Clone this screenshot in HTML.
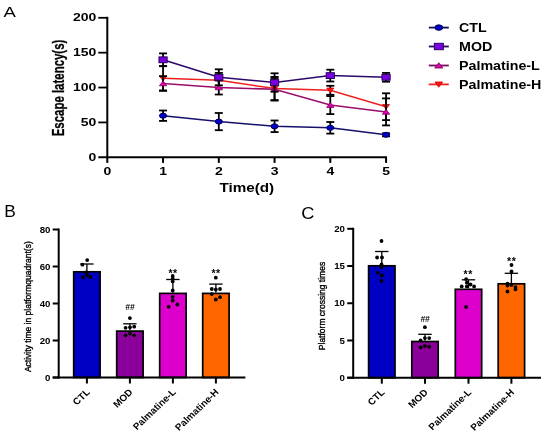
<!DOCTYPE html>
<html><head><meta charset="utf-8"><style>
html,body{margin:0;padding:0;background:#fff;}
body{width:550px;height:436px;overflow:hidden;}
svg{display:block;}
</style></head><body>
<svg width="550" height="436" viewBox="0 0 550 436">
<rect width="550" height="436" fill="#fff"/>
<line x1="107.30" y1="16.80" x2="107.30" y2="162.90" stroke="#000" stroke-width="2" stroke-linecap="butt"/>
<line x1="98.30" y1="157.30" x2="387.05" y2="157.30" stroke="#000" stroke-width="1.9" stroke-linecap="butt"/>
<line x1="98.30" y1="17.80" x2="107.30" y2="17.80" stroke="#000" stroke-width="1.8" stroke-linecap="butt"/>
<line x1="98.30" y1="52.68" x2="107.30" y2="52.68" stroke="#000" stroke-width="1.8" stroke-linecap="butt"/>
<line x1="98.30" y1="87.55" x2="107.30" y2="87.55" stroke="#000" stroke-width="1.8" stroke-linecap="butt"/>
<line x1="98.30" y1="122.43" x2="107.30" y2="122.43" stroke="#000" stroke-width="1.8" stroke-linecap="butt"/>
<line x1="163.05" y1="157.30" x2="163.05" y2="162.90" stroke="#000" stroke-width="2" stroke-linecap="butt"/>
<line x1="218.80" y1="157.30" x2="218.80" y2="162.90" stroke="#000" stroke-width="2" stroke-linecap="butt"/>
<line x1="274.55" y1="157.30" x2="274.55" y2="162.90" stroke="#000" stroke-width="2" stroke-linecap="butt"/>
<line x1="330.30" y1="157.30" x2="330.30" y2="162.90" stroke="#000" stroke-width="2" stroke-linecap="butt"/>
<line x1="386.05" y1="157.30" x2="386.05" y2="162.90" stroke="#000" stroke-width="2" stroke-linecap="butt"/>
<text transform="translate(96.30,21.40) scale(1.250,1.000)" font-size="11.2" font-weight="bold" text-anchor="end" fill="#000" font-family='"Liberation Sans", Arial, sans-serif'>200</text>
<text transform="translate(96.30,56.28) scale(1.250,1.000)" font-size="11.2" font-weight="bold" text-anchor="end" fill="#000" font-family='"Liberation Sans", Arial, sans-serif'>150</text>
<text transform="translate(96.30,91.15) scale(1.250,1.000)" font-size="11.2" font-weight="bold" text-anchor="end" fill="#000" font-family='"Liberation Sans", Arial, sans-serif'>100</text>
<text transform="translate(96.30,126.03) scale(1.250,1.000)" font-size="11.2" font-weight="bold" text-anchor="end" fill="#000" font-family='"Liberation Sans", Arial, sans-serif'>50</text>
<text transform="translate(96.30,160.90) scale(1.250,1.000)" font-size="11.2" font-weight="bold" text-anchor="end" fill="#000" font-family='"Liberation Sans", Arial, sans-serif'>0</text>
<text transform="translate(107.30,174.60) scale(1.250,1.000)" font-size="11.2" font-weight="bold" text-anchor="middle" fill="#000" font-family='"Liberation Sans", Arial, sans-serif'>0</text>
<text transform="translate(163.05,174.60) scale(1.250,1.000)" font-size="11.2" font-weight="bold" text-anchor="middle" fill="#000" font-family='"Liberation Sans", Arial, sans-serif'>1</text>
<text transform="translate(218.80,174.60) scale(1.250,1.000)" font-size="11.2" font-weight="bold" text-anchor="middle" fill="#000" font-family='"Liberation Sans", Arial, sans-serif'>2</text>
<text transform="translate(274.55,174.60) scale(1.250,1.000)" font-size="11.2" font-weight="bold" text-anchor="middle" fill="#000" font-family='"Liberation Sans", Arial, sans-serif'>3</text>
<text transform="translate(330.30,174.60) scale(1.250,1.000)" font-size="11.2" font-weight="bold" text-anchor="middle" fill="#000" font-family='"Liberation Sans", Arial, sans-serif'>4</text>
<text transform="translate(386.05,174.60) scale(1.250,1.000)" font-size="11.2" font-weight="bold" text-anchor="middle" fill="#000" font-family='"Liberation Sans", Arial, sans-serif'>5</text>
<text transform="translate(246.80,191.80) scale(1.250,1.000)" font-size="12.2" font-weight="bold" text-anchor="middle" fill="#000" font-family='"Liberation Sans", Arial, sans-serif'>Time(d)</text>
<text transform="translate(64.00,88.00) scale(1.520,1.000) rotate(-90)" font-size="11.45" font-weight="bold" text-anchor="middle" fill="#000" font-family='"Liberation Sans", Arial, sans-serif' stroke="#000" stroke-width="0.2">Escape latency(s)</text>
<text transform="translate(9.70,16.60) scale(1.220,1.000)" font-size="15.2" font-weight="normal" text-anchor="middle" fill="#000" font-family='"Liberation Sans", Arial, sans-serif'>A</text>
<line x1="163.05" y1="66.10" x2="163.05" y2="90.50" stroke="#000" stroke-width="1.8" stroke-linecap="butt"/>
<line x1="159.05" y1="66.10" x2="167.05" y2="66.10" stroke="#000" stroke-width="1.8" stroke-linecap="butt"/>
<line x1="159.05" y1="90.50" x2="167.05" y2="90.50" stroke="#000" stroke-width="1.8" stroke-linecap="butt"/>
<line x1="218.80" y1="72.90" x2="218.80" y2="87.70" stroke="#000" stroke-width="1.8" stroke-linecap="butt"/>
<line x1="214.80" y1="72.90" x2="222.80" y2="72.90" stroke="#000" stroke-width="1.8" stroke-linecap="butt"/>
<line x1="214.80" y1="87.70" x2="222.80" y2="87.70" stroke="#000" stroke-width="1.8" stroke-linecap="butt"/>
<line x1="274.55" y1="76.90" x2="274.55" y2="100.10" stroke="#000" stroke-width="1.8" stroke-linecap="butt"/>
<line x1="270.55" y1="76.90" x2="278.55" y2="76.90" stroke="#000" stroke-width="1.8" stroke-linecap="butt"/>
<line x1="270.55" y1="100.10" x2="278.55" y2="100.10" stroke="#000" stroke-width="1.8" stroke-linecap="butt"/>
<line x1="330.30" y1="85.80" x2="330.30" y2="94.80" stroke="#000" stroke-width="1.8" stroke-linecap="butt"/>
<line x1="326.30" y1="85.80" x2="334.30" y2="85.80" stroke="#000" stroke-width="1.8" stroke-linecap="butt"/>
<line x1="326.30" y1="94.80" x2="334.30" y2="94.80" stroke="#000" stroke-width="1.8" stroke-linecap="butt"/>
<line x1="386.05" y1="93.30" x2="386.05" y2="120.10" stroke="#000" stroke-width="1.8" stroke-linecap="butt"/>
<line x1="382.05" y1="93.30" x2="390.05" y2="93.30" stroke="#000" stroke-width="1.8" stroke-linecap="butt"/>
<line x1="382.05" y1="120.10" x2="390.05" y2="120.10" stroke="#000" stroke-width="1.8" stroke-linecap="butt"/>
<polyline points="163.05,78.30 218.80,80.30 274.55,88.50 330.30,90.30 386.05,106.70" fill="none" stroke="#f02020" stroke-width="1.55"/>
<polygon points="159.55,76.10 166.55,76.10 163.05,80.80" fill="#ff1010" stroke="#d00000" stroke-width="0.8"/>
<polygon points="215.30,78.10 222.30,78.10 218.80,82.80" fill="#ff1010" stroke="#d00000" stroke-width="0.8"/>
<polygon points="271.05,86.30 278.05,86.30 274.55,91.00" fill="#ff1010" stroke="#d00000" stroke-width="0.8"/>
<polygon points="326.80,88.10 333.80,88.10 330.30,92.80" fill="#ff1010" stroke="#d00000" stroke-width="0.8"/>
<polygon points="382.55,104.50 389.55,104.50 386.05,109.20" fill="#ff1010" stroke="#d00000" stroke-width="0.8"/>
<line x1="163.05" y1="76.20" x2="163.05" y2="90.80" stroke="#000" stroke-width="1.8" stroke-linecap="butt"/>
<line x1="159.05" y1="76.20" x2="167.05" y2="76.20" stroke="#000" stroke-width="1.8" stroke-linecap="butt"/>
<line x1="159.05" y1="90.80" x2="167.05" y2="90.80" stroke="#000" stroke-width="1.8" stroke-linecap="butt"/>
<line x1="218.80" y1="80.50" x2="218.80" y2="94.50" stroke="#000" stroke-width="1.8" stroke-linecap="butt"/>
<line x1="214.80" y1="80.50" x2="222.80" y2="80.50" stroke="#000" stroke-width="1.8" stroke-linecap="butt"/>
<line x1="214.80" y1="94.50" x2="222.80" y2="94.50" stroke="#000" stroke-width="1.8" stroke-linecap="butt"/>
<line x1="274.55" y1="78.00" x2="274.55" y2="100.60" stroke="#000" stroke-width="1.8" stroke-linecap="butt"/>
<line x1="270.55" y1="78.00" x2="278.55" y2="78.00" stroke="#000" stroke-width="1.8" stroke-linecap="butt"/>
<line x1="270.55" y1="100.60" x2="278.55" y2="100.60" stroke="#000" stroke-width="1.8" stroke-linecap="butt"/>
<line x1="330.30" y1="96.10" x2="330.30" y2="114.10" stroke="#000" stroke-width="1.8" stroke-linecap="butt"/>
<line x1="326.30" y1="96.10" x2="334.30" y2="96.10" stroke="#000" stroke-width="1.8" stroke-linecap="butt"/>
<line x1="326.30" y1="114.10" x2="334.30" y2="114.10" stroke="#000" stroke-width="1.8" stroke-linecap="butt"/>
<line x1="386.05" y1="98.40" x2="386.05" y2="125.40" stroke="#000" stroke-width="1.8" stroke-linecap="butt"/>
<line x1="382.05" y1="98.40" x2="390.05" y2="98.40" stroke="#000" stroke-width="1.8" stroke-linecap="butt"/>
<line x1="382.05" y1="125.40" x2="390.05" y2="125.40" stroke="#000" stroke-width="1.8" stroke-linecap="butt"/>
<polyline points="163.05,83.50 218.80,87.50 274.55,89.30 330.30,105.10 386.05,111.90" fill="none" stroke="#9a0c6c" stroke-width="1.55"/>
<polygon points="163.05,81.00 166.75,85.80 159.35,85.80" fill="#e000b8" stroke="#800050" stroke-width="0.8"/>
<polygon points="218.80,85.00 222.50,89.80 215.10,89.80" fill="#e000b8" stroke="#800050" stroke-width="0.8"/>
<polygon points="274.55,86.80 278.25,91.60 270.85,91.60" fill="#e000b8" stroke="#800050" stroke-width="0.8"/>
<polygon points="330.30,102.60 334.00,107.40 326.60,107.40" fill="#e000b8" stroke="#800050" stroke-width="0.8"/>
<polygon points="386.05,109.40 389.75,114.20 382.35,114.20" fill="#e000b8" stroke="#800050" stroke-width="0.8"/>
<line x1="163.05" y1="53.40" x2="163.05" y2="66.20" stroke="#000" stroke-width="1.8" stroke-linecap="butt"/>
<line x1="159.05" y1="53.40" x2="167.05" y2="53.40" stroke="#000" stroke-width="1.8" stroke-linecap="butt"/>
<line x1="159.05" y1="66.20" x2="167.05" y2="66.20" stroke="#000" stroke-width="1.8" stroke-linecap="butt"/>
<line x1="218.80" y1="69.30" x2="218.80" y2="85.30" stroke="#000" stroke-width="1.8" stroke-linecap="butt"/>
<line x1="214.80" y1="69.30" x2="222.80" y2="69.30" stroke="#000" stroke-width="1.8" stroke-linecap="butt"/>
<line x1="214.80" y1="85.30" x2="222.80" y2="85.30" stroke="#000" stroke-width="1.8" stroke-linecap="butt"/>
<line x1="274.55" y1="73.30" x2="274.55" y2="91.70" stroke="#000" stroke-width="1.8" stroke-linecap="butt"/>
<line x1="270.55" y1="73.30" x2="278.55" y2="73.30" stroke="#000" stroke-width="1.8" stroke-linecap="butt"/>
<line x1="270.55" y1="91.70" x2="278.55" y2="91.70" stroke="#000" stroke-width="1.8" stroke-linecap="butt"/>
<line x1="330.30" y1="69.70" x2="330.30" y2="81.50" stroke="#000" stroke-width="1.8" stroke-linecap="butt"/>
<line x1="326.30" y1="69.70" x2="334.30" y2="69.70" stroke="#000" stroke-width="1.8" stroke-linecap="butt"/>
<line x1="326.30" y1="81.50" x2="334.30" y2="81.50" stroke="#000" stroke-width="1.8" stroke-linecap="butt"/>
<line x1="386.05" y1="72.90" x2="386.05" y2="81.70" stroke="#000" stroke-width="1.8" stroke-linecap="butt"/>
<line x1="382.05" y1="72.90" x2="390.05" y2="72.90" stroke="#000" stroke-width="1.8" stroke-linecap="butt"/>
<line x1="382.05" y1="81.70" x2="390.05" y2="81.70" stroke="#000" stroke-width="1.8" stroke-linecap="butt"/>
<polyline points="163.05,59.80 218.80,77.30 274.55,82.50 330.30,75.60 386.05,77.30" fill="none" stroke="#2c0868" stroke-width="1.55"/>
<rect x="158.95" y="56.90" width="8.20" height="5.80" fill="#7a00e0" stroke="#2a0060" stroke-width="1"/>
<rect x="214.70" y="74.40" width="8.20" height="5.80" fill="#7a00e0" stroke="#2a0060" stroke-width="1"/>
<rect x="270.45" y="79.60" width="8.20" height="5.80" fill="#7a00e0" stroke="#2a0060" stroke-width="1"/>
<rect x="326.20" y="72.70" width="8.20" height="5.80" fill="#7a00e0" stroke="#2a0060" stroke-width="1"/>
<rect x="381.95" y="74.40" width="8.20" height="5.80" fill="#7a00e0" stroke="#2a0060" stroke-width="1"/>
<line x1="163.05" y1="110.50" x2="163.05" y2="120.90" stroke="#000" stroke-width="1.8" stroke-linecap="butt"/>
<line x1="159.05" y1="110.50" x2="167.05" y2="110.50" stroke="#000" stroke-width="1.8" stroke-linecap="butt"/>
<line x1="159.05" y1="120.90" x2="167.05" y2="120.90" stroke="#000" stroke-width="1.8" stroke-linecap="butt"/>
<line x1="218.80" y1="113.00" x2="218.80" y2="130.20" stroke="#000" stroke-width="1.8" stroke-linecap="butt"/>
<line x1="214.80" y1="113.00" x2="222.80" y2="113.00" stroke="#000" stroke-width="1.8" stroke-linecap="butt"/>
<line x1="214.80" y1="130.20" x2="222.80" y2="130.20" stroke="#000" stroke-width="1.8" stroke-linecap="butt"/>
<line x1="274.55" y1="120.50" x2="274.55" y2="132.10" stroke="#000" stroke-width="1.8" stroke-linecap="butt"/>
<line x1="270.55" y1="120.50" x2="278.55" y2="120.50" stroke="#000" stroke-width="1.8" stroke-linecap="butt"/>
<line x1="270.55" y1="132.10" x2="278.55" y2="132.10" stroke="#000" stroke-width="1.8" stroke-linecap="butt"/>
<line x1="330.30" y1="122.00" x2="330.30" y2="133.60" stroke="#000" stroke-width="1.8" stroke-linecap="butt"/>
<line x1="326.30" y1="122.00" x2="334.30" y2="122.00" stroke="#000" stroke-width="1.8" stroke-linecap="butt"/>
<line x1="326.30" y1="133.60" x2="334.30" y2="133.60" stroke="#000" stroke-width="1.8" stroke-linecap="butt"/>
<line x1="386.05" y1="133.30" x2="386.05" y2="136.30" stroke="#000" stroke-width="1.8" stroke-linecap="butt"/>
<line x1="382.05" y1="133.30" x2="390.05" y2="133.30" stroke="#000" stroke-width="1.8" stroke-linecap="butt"/>
<line x1="382.05" y1="136.30" x2="390.05" y2="136.30" stroke="#000" stroke-width="1.8" stroke-linecap="butt"/>
<polyline points="163.05,115.70 218.80,121.60 274.55,126.30 330.30,127.80 386.05,134.80" fill="none" stroke="#16106a" stroke-width="1.55"/>
<ellipse cx="163.05" cy="115.70" rx="3.60" ry="2.50" fill="#0000c8" stroke="#000050" stroke-width="1"/>
<ellipse cx="218.80" cy="121.60" rx="3.60" ry="2.50" fill="#0000c8" stroke="#000050" stroke-width="1"/>
<ellipse cx="274.55" cy="126.30" rx="3.60" ry="2.50" fill="#0000c8" stroke="#000050" stroke-width="1"/>
<ellipse cx="330.30" cy="127.80" rx="3.60" ry="2.50" fill="#0000c8" stroke="#000050" stroke-width="1"/>
<ellipse cx="386.05" cy="134.80" rx="3.60" ry="2.50" fill="#0000c8" stroke="#000050" stroke-width="1"/>
<line x1="428.80" y1="27.60" x2="448.80" y2="27.60" stroke="#120e50" stroke-width="1.8" stroke-linecap="butt"/>
<ellipse cx="438.80" cy="27.60" rx="3.96" ry="2.75" fill="#0000c8" stroke="#000050" stroke-width="1"/>
<text transform="translate(459.00,31.70) scale(1.160,1.000)" font-size="12.3" font-weight="bold" text-anchor="start" fill="#000" font-family='"Liberation Sans", Arial, sans-serif'>CTL</text>
<line x1="428.80" y1="46.50" x2="448.80" y2="46.50" stroke="#2a0860" stroke-width="1.8" stroke-linecap="butt"/>
<rect x="434.29" y="43.31" width="9.02" height="6.38" fill="#7a00e0" stroke="#2a0060" stroke-width="1"/>
<text transform="translate(459.00,50.60) scale(1.160,1.000)" font-size="12.3" font-weight="bold" text-anchor="start" fill="#000" font-family='"Liberation Sans", Arial, sans-serif'>MOD</text>
<line x1="428.80" y1="65.50" x2="448.80" y2="65.50" stroke="#7a0a5a" stroke-width="1.8" stroke-linecap="butt"/>
<polygon points="438.80,62.75 442.87,68.03 434.73,68.03" fill="#e000b8" stroke="#700048" stroke-width="0.8"/>
<text transform="translate(459.00,69.60) scale(1.160,1.000)" font-size="12.3" font-weight="bold" text-anchor="start" fill="#000" font-family='"Liberation Sans", Arial, sans-serif'>Palmatine-L</text>
<line x1="428.80" y1="84.40" x2="448.80" y2="84.40" stroke="#f02020" stroke-width="1.8" stroke-linecap="butt"/>
<polygon points="434.95,81.98 442.65,81.98 438.80,87.15" fill="#ff1010" stroke="#d00000" stroke-width="0.8"/>
<text transform="translate(459.00,88.50) scale(1.160,1.000)" font-size="12.3" font-weight="bold" text-anchor="start" fill="#000" font-family='"Liberation Sans", Arial, sans-serif'>Palmatine-H</text>
<rect x="73.70" y="271.80" width="26.4" height="105.70" fill="#0000c4" stroke="#000" stroke-width="1.7"/>
<rect x="116.70" y="331.10" width="26.4" height="46.40" fill="#8b009b" stroke="#000" stroke-width="1.7"/>
<rect x="159.70" y="293.40" width="26.4" height="84.10" fill="#dd00cc" stroke="#000" stroke-width="1.7"/>
<rect x="202.70" y="293.40" width="26.4" height="84.10" fill="#ff6600" stroke="#000" stroke-width="1.7"/>
<line x1="86.90" y1="271.00" x2="86.90" y2="264.00" stroke="#000" stroke-width="1.3" stroke-linecap="butt"/>
<line x1="80.20" y1="264.00" x2="93.60" y2="264.00" stroke="#000" stroke-width="1.3" stroke-linecap="butt"/>
<line x1="129.90" y1="330.30" x2="129.90" y2="323.80" stroke="#000" stroke-width="1.3" stroke-linecap="butt"/>
<line x1="123.20" y1="323.80" x2="136.60" y2="323.80" stroke="#000" stroke-width="1.3" stroke-linecap="butt"/>
<line x1="172.90" y1="292.60" x2="172.90" y2="279.50" stroke="#000" stroke-width="1.3" stroke-linecap="butt"/>
<line x1="166.20" y1="279.50" x2="179.60" y2="279.50" stroke="#000" stroke-width="1.3" stroke-linecap="butt"/>
<line x1="215.90" y1="292.60" x2="215.90" y2="284.10" stroke="#000" stroke-width="1.3" stroke-linecap="butt"/>
<line x1="209.20" y1="284.10" x2="222.60" y2="284.10" stroke="#000" stroke-width="1.3" stroke-linecap="butt"/>
<circle cx="87.20" cy="260.10" r="1.9" fill="#000"/>
<circle cx="82.40" cy="264.70" r="1.9" fill="#000"/>
<circle cx="83.00" cy="277.30" r="1.9" fill="#000"/>
<circle cx="87.00" cy="275.00" r="1.9" fill="#000"/>
<circle cx="90.40" cy="277.00" r="1.9" fill="#000"/>
<circle cx="86.00" cy="272.50" r="1.9" fill="#000"/>
<circle cx="129.90" cy="318.10" r="1.9" fill="#000"/>
<circle cx="125.60" cy="327.80" r="1.9" fill="#000"/>
<circle cx="130.00" cy="327.30" r="1.9" fill="#000"/>
<circle cx="134.20" cy="326.70" r="1.9" fill="#000"/>
<circle cx="125.60" cy="335.30" r="1.9" fill="#000"/>
<circle cx="130.00" cy="333.60" r="1.9" fill="#000"/>
<circle cx="134.20" cy="335.30" r="1.9" fill="#000"/>
<circle cx="172.70" cy="275.90" r="1.9" fill="#000"/>
<circle cx="172.70" cy="278.60" r="1.9" fill="#000"/>
<circle cx="172.70" cy="281.40" r="1.9" fill="#000"/>
<circle cx="172.70" cy="290.50" r="1.9" fill="#000"/>
<circle cx="172.70" cy="296.80" r="1.9" fill="#000"/>
<circle cx="172.70" cy="300.50" r="1.9" fill="#000"/>
<circle cx="177.30" cy="304.50" r="1.9" fill="#000"/>
<circle cx="168.70" cy="306.80" r="1.9" fill="#000"/>
<circle cx="215.80" cy="277.70" r="1.9" fill="#000"/>
<circle cx="211.80" cy="289.00" r="1.9" fill="#000"/>
<circle cx="220.00" cy="289.00" r="1.9" fill="#000"/>
<circle cx="215.80" cy="289.50" r="1.9" fill="#000"/>
<circle cx="211.80" cy="294.10" r="1.9" fill="#000"/>
<circle cx="215.80" cy="299.50" r="1.9" fill="#000"/>
<circle cx="220.00" cy="297.20" r="1.9" fill="#000"/>
<line x1="58.70" y1="228.50" x2="58.70" y2="378.50" stroke="#000" stroke-width="2" stroke-linecap="butt"/>
<line x1="52.70" y1="377.50" x2="245.40" y2="377.50" stroke="#000" stroke-width="2" stroke-linecap="butt"/>
<line x1="52.70" y1="229.50" x2="58.70" y2="229.50" stroke="#000" stroke-width="2" stroke-linecap="butt"/>
<text transform="translate(50.50,232.70) scale(1.100,1.000)" font-size="8.8" font-weight="bold" text-anchor="end" fill="#000" font-family='"Liberation Sans", Arial, sans-serif'>80</text>
<line x1="52.70" y1="266.50" x2="58.70" y2="266.50" stroke="#000" stroke-width="2" stroke-linecap="butt"/>
<text transform="translate(50.50,269.70) scale(1.100,1.000)" font-size="8.8" font-weight="bold" text-anchor="end" fill="#000" font-family='"Liberation Sans", Arial, sans-serif'>60</text>
<line x1="52.70" y1="303.50" x2="58.70" y2="303.50" stroke="#000" stroke-width="2" stroke-linecap="butt"/>
<text transform="translate(50.50,306.70) scale(1.100,1.000)" font-size="8.8" font-weight="bold" text-anchor="end" fill="#000" font-family='"Liberation Sans", Arial, sans-serif'>40</text>
<line x1="52.70" y1="340.50" x2="58.70" y2="340.50" stroke="#000" stroke-width="2" stroke-linecap="butt"/>
<text transform="translate(50.50,343.70) scale(1.100,1.000)" font-size="8.8" font-weight="bold" text-anchor="end" fill="#000" font-family='"Liberation Sans", Arial, sans-serif'>20</text>
<line x1="52.70" y1="377.50" x2="58.70" y2="377.50" stroke="#000" stroke-width="2" stroke-linecap="butt"/>
<text transform="translate(50.50,380.70) scale(1.100,1.000)" font-size="8.8" font-weight="bold" text-anchor="end" fill="#000" font-family='"Liberation Sans", Arial, sans-serif'>0</text>
<line x1="86.90" y1="377.50" x2="86.90" y2="383.50" stroke="#000" stroke-width="2" stroke-linecap="butt"/>
<line x1="129.90" y1="377.50" x2="129.90" y2="383.50" stroke="#000" stroke-width="2" stroke-linecap="butt"/>
<line x1="172.90" y1="377.50" x2="172.90" y2="383.50" stroke="#000" stroke-width="2" stroke-linecap="butt"/>
<line x1="215.90" y1="377.50" x2="215.90" y2="383.50" stroke="#000" stroke-width="2" stroke-linecap="butt"/>
<text transform="translate(129.90,309.90)" font-size="8.3" font-weight="bold" text-anchor="middle" fill="#000" font-family='"Liberation Sans", Arial, sans-serif' font-style="italic">##</text>
<text transform="translate(173.10,277.30)" font-size="10.5" font-weight="bold" text-anchor="middle" fill="#000" font-family='"Liberation Sans", Arial, sans-serif' letter-spacing="0.6">**</text>
<text transform="translate(216.10,277.30)" font-size="10.5" font-weight="bold" text-anchor="middle" fill="#000" font-family='"Liberation Sans", Arial, sans-serif' letter-spacing="0.6">**</text>
<text transform="translate(90.40,392.80) scale(1.050,1.000) rotate(-45)" font-size="9.4" font-weight="bold" text-anchor="end" fill="#000" font-family='"Liberation Sans", Arial, sans-serif'>CTL</text>
<text transform="translate(133.40,392.80) scale(1.050,1.000) rotate(-45)" font-size="9.4" font-weight="bold" text-anchor="end" fill="#000" font-family='"Liberation Sans", Arial, sans-serif'>MOD</text>
<text transform="translate(176.40,392.80) scale(1.050,1.000) rotate(-45)" font-size="9.4" font-weight="bold" text-anchor="end" fill="#000" font-family='"Liberation Sans", Arial, sans-serif'>Palmatine-L</text>
<text transform="translate(219.40,392.80) scale(1.050,1.000) rotate(-45)" font-size="9.4" font-weight="bold" text-anchor="end" fill="#000" font-family='"Liberation Sans", Arial, sans-serif'>Palmatine-H</text>
<text transform="translate(31.00,306.70) rotate(-90)" font-size="8.5" font-weight="normal" text-anchor="middle" fill="#000" font-family='"Liberation Sans", Arial, sans-serif' stroke="#000" stroke-width="0.35">Activity time in platformquadrant(s)</text>
<text transform="translate(10.00,216.60) scale(1.070,1.000)" font-size="16.2" font-weight="normal" text-anchor="middle" fill="#000" font-family='Liberation Sans, sans-serif'>B</text>
<rect x="368.60" y="265.80" width="26.4" height="111.90" fill="#0000c4" stroke="#000" stroke-width="1.7"/>
<rect x="411.80" y="341.50" width="26.4" height="36.20" fill="#8b009b" stroke="#000" stroke-width="1.7"/>
<rect x="455.30" y="289.30" width="26.4" height="88.40" fill="#dd00cc" stroke="#000" stroke-width="1.7"/>
<rect x="498.20" y="283.80" width="26.4" height="93.90" fill="#ff6600" stroke="#000" stroke-width="1.7"/>
<line x1="381.80" y1="265.00" x2="381.80" y2="251.50" stroke="#000" stroke-width="1.3" stroke-linecap="butt"/>
<line x1="375.10" y1="251.50" x2="388.50" y2="251.50" stroke="#000" stroke-width="1.3" stroke-linecap="butt"/>
<line x1="425.00" y1="340.70" x2="425.00" y2="334.30" stroke="#000" stroke-width="1.3" stroke-linecap="butt"/>
<line x1="418.30" y1="334.30" x2="431.70" y2="334.30" stroke="#000" stroke-width="1.3" stroke-linecap="butt"/>
<line x1="468.50" y1="288.50" x2="468.50" y2="279.80" stroke="#000" stroke-width="1.3" stroke-linecap="butt"/>
<line x1="461.80" y1="279.80" x2="475.20" y2="279.80" stroke="#000" stroke-width="1.3" stroke-linecap="butt"/>
<line x1="511.40" y1="283.00" x2="511.40" y2="273.30" stroke="#000" stroke-width="1.3" stroke-linecap="butt"/>
<line x1="504.70" y1="273.30" x2="518.10" y2="273.30" stroke="#000" stroke-width="1.3" stroke-linecap="butt"/>
<circle cx="381.50" cy="241.00" r="1.9" fill="#000"/>
<circle cx="377.10" cy="257.50" r="1.9" fill="#000"/>
<circle cx="382.00" cy="257.50" r="1.9" fill="#000"/>
<circle cx="381.50" cy="264.40" r="1.9" fill="#000"/>
<circle cx="381.50" cy="267.20" r="1.9" fill="#000"/>
<circle cx="377.90" cy="272.70" r="1.9" fill="#000"/>
<circle cx="382.00" cy="275.50" r="1.9" fill="#000"/>
<circle cx="381.50" cy="281.00" r="1.9" fill="#000"/>
<circle cx="424.90" cy="327.20" r="1.9" fill="#000"/>
<circle cx="420.60" cy="340.40" r="1.9" fill="#000"/>
<circle cx="424.90" cy="338.10" r="1.9" fill="#000"/>
<circle cx="429.20" cy="338.10" r="1.9" fill="#000"/>
<circle cx="420.60" cy="347.30" r="1.9" fill="#000"/>
<circle cx="424.90" cy="346.10" r="1.9" fill="#000"/>
<circle cx="429.20" cy="346.70" r="1.9" fill="#000"/>
<circle cx="466.10" cy="279.10" r="1.9" fill="#000"/>
<circle cx="466.80" cy="282.70" r="1.9" fill="#000"/>
<circle cx="470.50" cy="284.50" r="1.9" fill="#000"/>
<circle cx="461.70" cy="286.40" r="1.9" fill="#000"/>
<circle cx="474.10" cy="286.40" r="1.9" fill="#000"/>
<circle cx="466.80" cy="286.40" r="1.9" fill="#000"/>
<circle cx="466.10" cy="307.00" r="1.9" fill="#000"/>
<circle cx="511.50" cy="265.00" r="1.9" fill="#000"/>
<circle cx="511.50" cy="271.50" r="1.9" fill="#000"/>
<circle cx="507.50" cy="283.70" r="1.9" fill="#000"/>
<circle cx="507.50" cy="285.60" r="1.9" fill="#000"/>
<circle cx="511.50" cy="284.90" r="1.9" fill="#000"/>
<circle cx="515.50" cy="287.10" r="1.9" fill="#000"/>
<circle cx="515.50" cy="289.30" r="1.9" fill="#000"/>
<circle cx="507.50" cy="291.50" r="1.9" fill="#000"/>
<line x1="353.20" y1="227.80" x2="353.20" y2="378.70" stroke="#000" stroke-width="2" stroke-linecap="butt"/>
<line x1="347.20" y1="377.70" x2="541.00" y2="377.70" stroke="#000" stroke-width="2" stroke-linecap="butt"/>
<line x1="347.20" y1="228.80" x2="353.20" y2="228.80" stroke="#000" stroke-width="2" stroke-linecap="butt"/>
<text transform="translate(345.00,232.00) scale(1.100,1.000)" font-size="8.8" font-weight="bold" text-anchor="end" fill="#000" font-family='"Liberation Sans", Arial, sans-serif'>20</text>
<line x1="347.20" y1="266.02" x2="353.20" y2="266.02" stroke="#000" stroke-width="2" stroke-linecap="butt"/>
<text transform="translate(345.00,269.22) scale(1.100,1.000)" font-size="8.8" font-weight="bold" text-anchor="end" fill="#000" font-family='"Liberation Sans", Arial, sans-serif'>15</text>
<line x1="347.20" y1="303.25" x2="353.20" y2="303.25" stroke="#000" stroke-width="2" stroke-linecap="butt"/>
<text transform="translate(345.00,306.45) scale(1.100,1.000)" font-size="8.8" font-weight="bold" text-anchor="end" fill="#000" font-family='"Liberation Sans", Arial, sans-serif'>10</text>
<line x1="347.20" y1="340.48" x2="353.20" y2="340.48" stroke="#000" stroke-width="2" stroke-linecap="butt"/>
<text transform="translate(345.00,343.68) scale(1.100,1.000)" font-size="8.8" font-weight="bold" text-anchor="end" fill="#000" font-family='"Liberation Sans", Arial, sans-serif'>5</text>
<line x1="347.20" y1="377.70" x2="353.20" y2="377.70" stroke="#000" stroke-width="2" stroke-linecap="butt"/>
<text transform="translate(345.00,380.90) scale(1.100,1.000)" font-size="8.8" font-weight="bold" text-anchor="end" fill="#000" font-family='"Liberation Sans", Arial, sans-serif'>0</text>
<line x1="381.80" y1="377.70" x2="381.80" y2="383.70" stroke="#000" stroke-width="2" stroke-linecap="butt"/>
<line x1="425.00" y1="377.70" x2="425.00" y2="383.70" stroke="#000" stroke-width="2" stroke-linecap="butt"/>
<line x1="468.50" y1="377.70" x2="468.50" y2="383.70" stroke="#000" stroke-width="2" stroke-linecap="butt"/>
<line x1="511.40" y1="377.70" x2="511.40" y2="383.70" stroke="#000" stroke-width="2" stroke-linecap="butt"/>
<text transform="translate(425.00,322.40)" font-size="8.3" font-weight="bold" text-anchor="middle" fill="#000" font-family='"Liberation Sans", Arial, sans-serif' font-style="italic">##</text>
<text transform="translate(468.30,277.50)" font-size="10.5" font-weight="bold" text-anchor="middle" fill="#000" font-family='"Liberation Sans", Arial, sans-serif' letter-spacing="0.6">**</text>
<text transform="translate(511.70,264.50)" font-size="10.5" font-weight="bold" text-anchor="middle" fill="#000" font-family='"Liberation Sans", Arial, sans-serif' letter-spacing="0.6">**</text>
<text transform="translate(385.30,393.00) scale(1.050,1.000) rotate(-45)" font-size="9.4" font-weight="bold" text-anchor="end" fill="#000" font-family='"Liberation Sans", Arial, sans-serif'>CTL</text>
<text transform="translate(428.50,393.00) scale(1.050,1.000) rotate(-45)" font-size="9.4" font-weight="bold" text-anchor="end" fill="#000" font-family='"Liberation Sans", Arial, sans-serif'>MOD</text>
<text transform="translate(472.00,393.00) scale(1.050,1.000) rotate(-45)" font-size="9.4" font-weight="bold" text-anchor="end" fill="#000" font-family='"Liberation Sans", Arial, sans-serif'>Palmatine-L</text>
<text transform="translate(514.90,393.00) scale(1.050,1.000) rotate(-45)" font-size="9.4" font-weight="bold" text-anchor="end" fill="#000" font-family='"Liberation Sans", Arial, sans-serif'>Palmatine-H</text>
<text transform="translate(325.00,306.00) rotate(-90)" font-size="8.5" font-weight="normal" text-anchor="middle" fill="#000" font-family='"Liberation Sans", Arial, sans-serif' stroke="#000" stroke-width="0.35">Platform crossing times</text>
<text transform="translate(307.90,219.00) scale(1.130,1.000)" font-size="16.2" font-weight="normal" text-anchor="middle" fill="#000" font-family='Liberation Sans, sans-serif'>C</text>
</svg>
</body></html>
